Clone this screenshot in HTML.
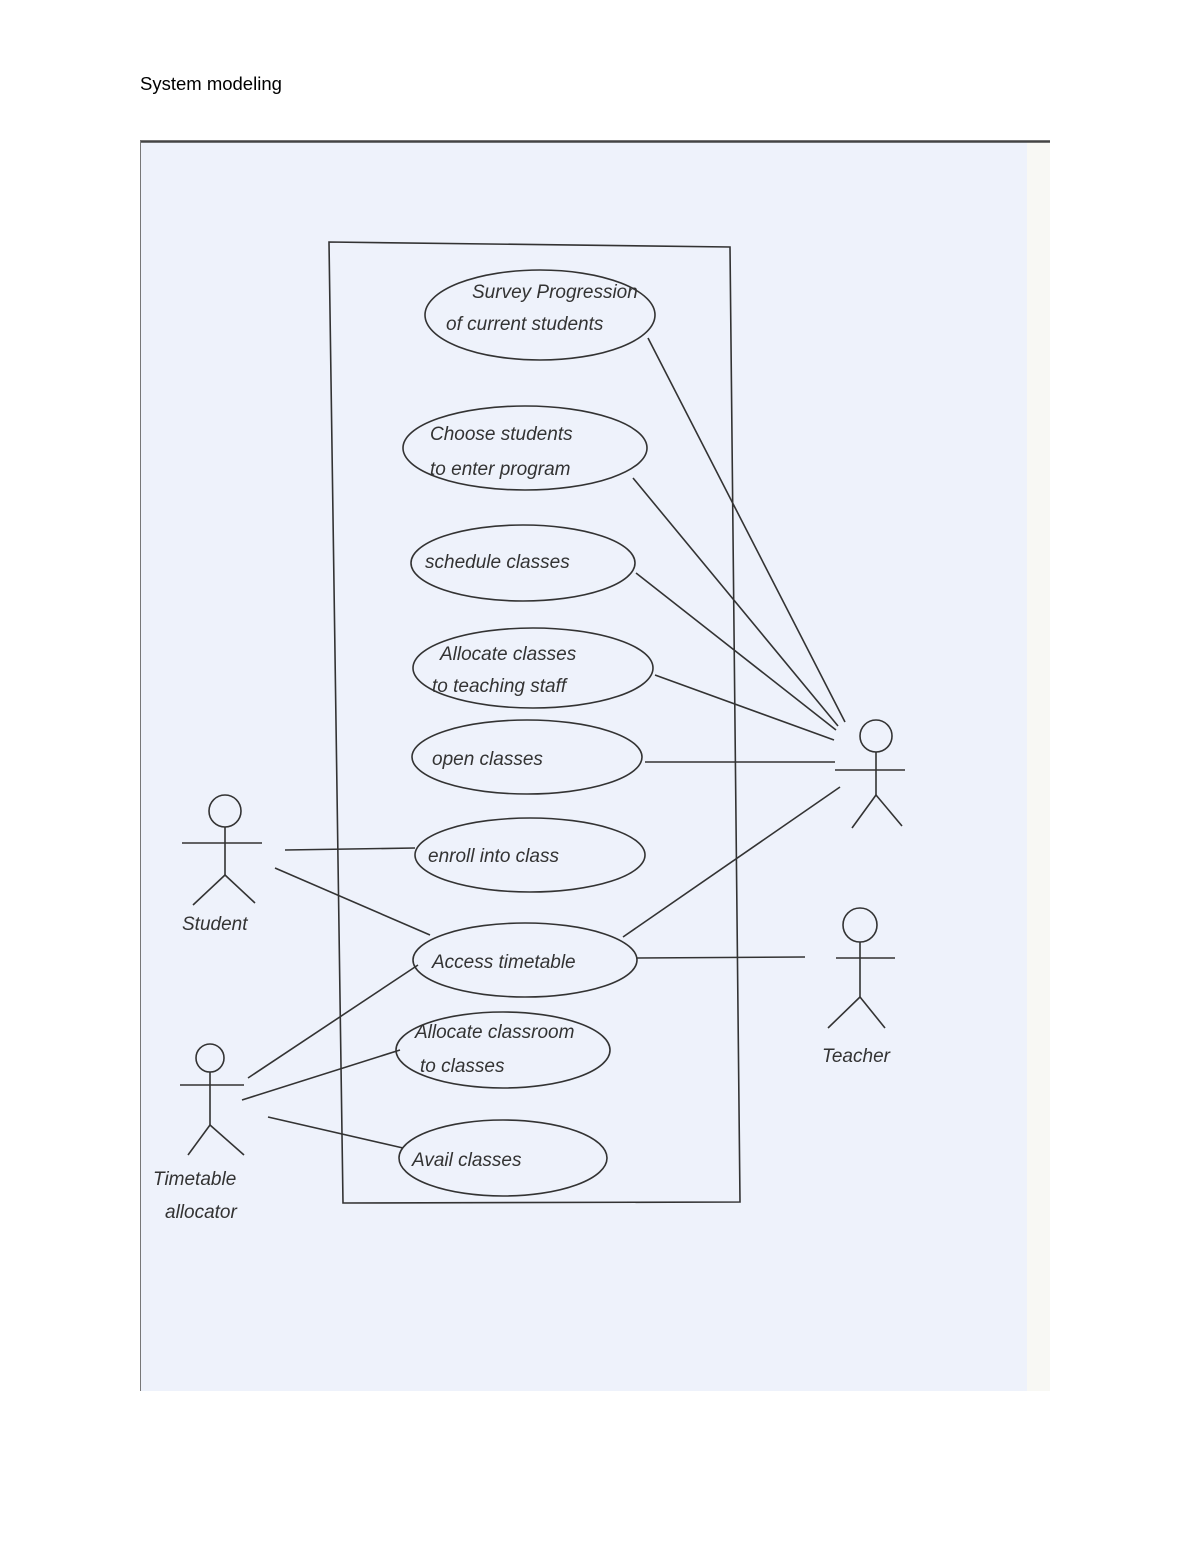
<!DOCTYPE html>
<html><head><meta charset="utf-8"><style>
body{margin:0;background:#fff;width:1190px;height:1540px;overflow:hidden}
</style></head><body>
<svg width="1190" height="1540" xmlns="http://www.w3.org/2000/svg">
<text x="140" y="90" font-family="Liberation Sans, sans-serif" font-size="18.5" fill="#000">System modeling</text>
<rect x="140" y="141" width="910" height="1250" fill="#eef2fb"/>
<rect x="1027" y="141" width="23" height="1250" fill="#f8f8f4"/>
<line x1="140" y1="141.5" x2="1050" y2="141.5" stroke="#444" stroke-width="2.5"/>
<line x1="140.5" y1="141" x2="140.5" y2="1391" stroke="#777" stroke-width="1"/>
<g fill="none" stroke="#333" stroke-width="1.6">
<polygon points="329,242 730,247 740,1202 343,1203"/>
<ellipse cx="540" cy="315" rx="115" ry="45"/>
<ellipse cx="525" cy="448" rx="122" ry="42"/>
<ellipse cx="523" cy="563" rx="112" ry="38"/>
<ellipse cx="533" cy="668" rx="120" ry="40"/>
<ellipse cx="527" cy="757" rx="115" ry="37"/>
<ellipse cx="530" cy="855" rx="115" ry="37"/>
<ellipse cx="525" cy="960" rx="112" ry="37"/>
<ellipse cx="503" cy="1050" rx="107" ry="38"/>
<ellipse cx="503" cy="1158" rx="104" ry="38"/>
<line x1="648" y1="338" x2="845" y2="722"/>
<line x1="633" y1="478" x2="838" y2="726"/>
<line x1="636" y1="573" x2="836" y2="730"/>
<line x1="655" y1="675" x2="834" y2="740"/>
<line x1="645" y1="762" x2="835" y2="762"/>
<line x1="623" y1="937" x2="840" y2="787"/>
<line x1="285" y1="850" x2="415" y2="848"/>
<line x1="275" y1="868" x2="430" y2="935"/>
<line x1="637" y1="958" x2="805" y2="957"/>
<line x1="248" y1="1078" x2="418" y2="965"/>
<line x1="242" y1="1100" x2="400" y2="1050"/>
<line x1="268" y1="1117" x2="403" y2="1148"/>
<circle cx="876" cy="736" r="16"/>
<line x1="876" y1="752" x2="876" y2="795"/><line x1="835" y1="770" x2="905" y2="770"/>
<line x1="876" y1="795" x2="852" y2="828"/><line x1="876" y1="795" x2="902" y2="826"/>
<circle cx="225" cy="811" r="16"/>
<line x1="225" y1="827" x2="225" y2="875"/><line x1="182" y1="843" x2="262" y2="843"/>
<line x1="225" y1="875" x2="193" y2="905"/><line x1="225" y1="875" x2="255" y2="903"/>
<circle cx="860" cy="925" r="17"/>
<line x1="860" y1="942" x2="860" y2="997"/><line x1="836" y1="958" x2="895" y2="958"/>
<line x1="860" y1="997" x2="828" y2="1028"/><line x1="860" y1="997" x2="885" y2="1028"/>
<circle cx="210" cy="1058" r="14"/>
<line x1="210" y1="1072" x2="210" y2="1125"/><line x1="180" y1="1085" x2="244" y2="1085"/>
<line x1="210" y1="1125" x2="188" y2="1155"/><line x1="210" y1="1125" x2="244" y2="1155"/>
</g>
<g font-family="Liberation Sans, sans-serif" font-style="italic" font-size="19" fill="#333">
<text x="472" y="298">Survey Progression</text>
<text x="446" y="330">of current students</text>
<text x="430" y="440">Choose students</text>
<text x="430" y="475">to enter program</text>
<text x="425" y="568">schedule classes</text>
<text x="440" y="660">Allocate classes</text>
<text x="432" y="692">to teaching staff</text>
<text x="432" y="765">open classes</text>
<text x="428" y="862">enroll into class</text>
<text x="432" y="968">Access timetable</text>
<text x="415" y="1038">Allocate classroom</text>
<text x="420" y="1072">to classes</text>
<text x="412" y="1166">Avail classes</text>
<text x="182" y="930">Student</text>
<text x="822" y="1062">Teacher</text>
<text x="153" y="1185">Timetable</text>
<text x="165" y="1218">allocator</text>
</g>
</svg>
</body></html>
